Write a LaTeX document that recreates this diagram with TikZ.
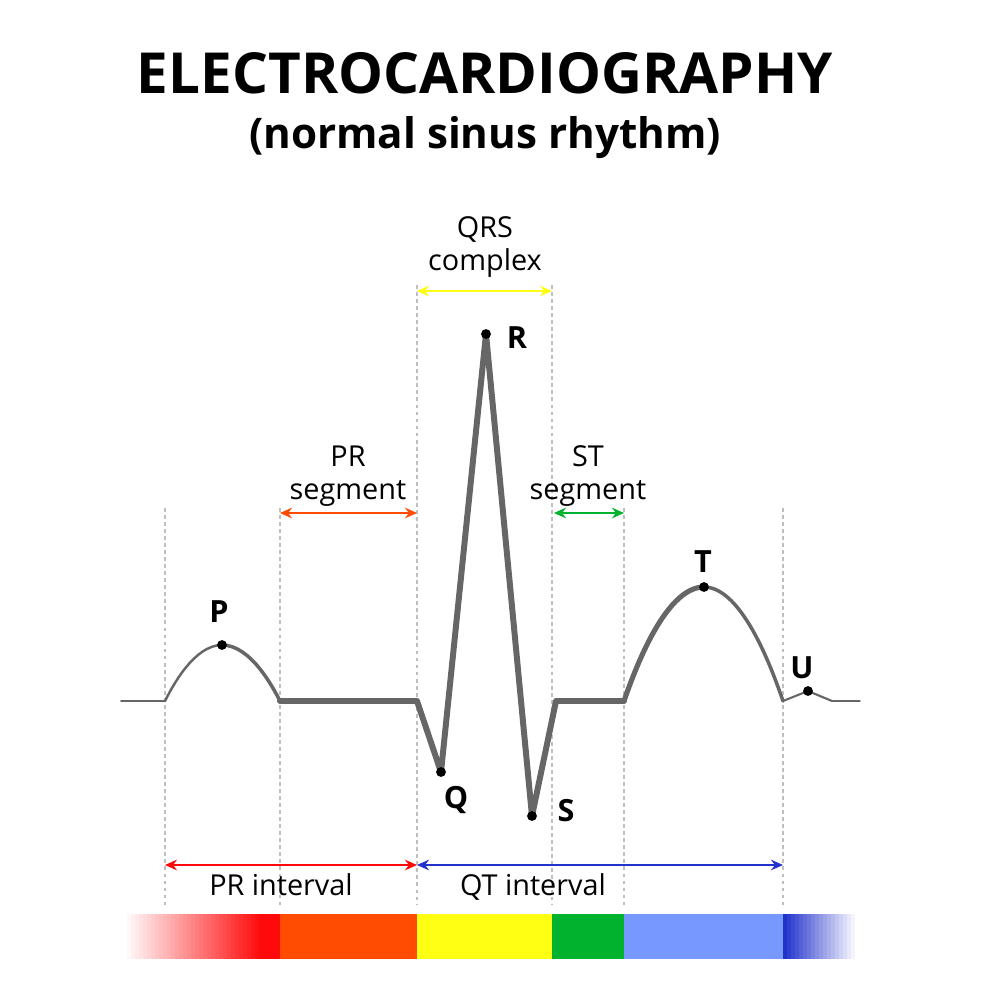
\documentclass[tikz,border=0pt]{standalone}
\usepackage{fontspec}
\setmainfont{Open Sans}
\usetikzlibrary{arrows.meta}
\definecolor{ecggray}{HTML}{666666}
\definecolor{prred}{HTML}{FF0A0A}
\definecolor{segorange}{HTML}{FF4C00}
\definecolor{qrsyellow}{HTML}{FFFF14}
\definecolor{stgreen}{HTML}{00B22D}
\definecolor{tblue}{HTML}{7799FF}
\definecolor{qtblue}{HTML}{2233CC}

\begin{document}
\begin{tikzpicture}[x=0.1mm,y=-0.1mm,
	guide/.style={draw=black!25,line width=0.3pt,dash pattern=on 1.1pt off 0.9pt},
	span/.style={line width=0.55pt,{Stealth[length=3.4pt,width=3pt]}-{Stealth[length=3.4pt,width=3pt]}},
	lab/.style={font=\fontsize{8.2}{9.3}\selectfont,align=center,inner sep=0pt},
	wavename/.style={font=\bfseries\fontsize{8.7}{10}\selectfont,inner sep=0pt},
	wdot/.style={circle,fill=black,inner sep=0pt,minimum size=2.8pt},
	ecg/.style={draw=ecggray,line cap=round,line join=round}]
		\useasboundingbox (0,0) rectangle (1000,1000);
		\node[font=\bfseries\fontsize{16.1}{19}\selectfont,anchor=base,inner sep=0pt] (title) at (485,93) {ELECTROCARDIOGRAPHY};
		\node[font=\bfseries\fontsize{12}{14}\selectfont,anchor=base,inner sep=0pt] (subtitle) at (485,148) {(normal sinus rhythm)};
		\foreach \gx/\gtop in {165/508,280/508,417/285,552/285,624/508,783/508}
		{
		\draw[guide] (\gx,\gtop) to (\gx,905);
		}
		\coordinate (base0) at (121,701);
		\coordinate (p0) at (165,701);
		\coordinate (ptop) at (222,645);
		\coordinate (p1) at (280,701);
		\coordinate (q0) at (417,701);
		\coordinate (q) at (441,772);
		\coordinate (r) at (486,334);
		\coordinate (s) at (532,816);
		\coordinate (st0) at (556,701);
		\coordinate (t0) at (624,701);
		\coordinate (ttop) at (704,587);
		\coordinate (t1) at (783,701);
		\coordinate (u) at (808,691);
		\coordinate (u1) at (832,701);
		\coordinate (base1) at (860,701);
		\draw[ecg,line width=0.45pt] (base0) to (p0);
		\draw[ecg,line width=0.7pt] (p0) parabola[bend at end] (ptop);
		\draw[ecg,line width=1.0pt] (ptop) parabola (p1);
		\draw[ecg,line width=1.7pt] (p1) to (q0) to (q) to (r) to (s) to (st0) to (t0);
		\draw[ecg,line width=1.45pt] (t0) parabola[bend at end] (ttop);
		\draw[ecg,line width=1.0pt] (ttop) parabola (t1);
		\draw[ecg,line width=0.6pt] (t1) to (u) to (u1);
		\draw[ecg,line width=0.4pt] (u1) to (base1);
		\node[wdot] (pdot) at (ptop) {};
		\node[wdot] (qdot) at (q) {};
		\node[wdot] (rdot) at (r) {};
		\node[wdot] (sdot) at (s) {};
		\node[wdot] (tdot) at (ttop) {};
		\node[wdot] (udot) at (u) {};
		\node[wavename] (pname) at (219,612) {P};
		\node[wavename] (qname) at (456,800) {Q};
		\node[wavename] (rname) at (517,338) {R};
		\node[wavename] (sname) at (566,811) {S};
		\node[wavename] (tname) at (703,562) {T};
		\node[wavename] (uname) at (802,668) {U};
		\coordinate (qrsL) at (417,291);
		\coordinate (qrsR) at (552,291);
		\coordinate (prsL) at (280,513);
		\coordinate (prsR) at (417,513);
		\coordinate (stsL) at (554,513);
		\coordinate (stsR) at (624,513);
		\coordinate (priL) at (165,865);
		\coordinate (priR) at (417,865);
		\coordinate (qtiL) at (417,865);
		\coordinate (qtiR) at (783,865);
		\draw[span,qrsyellow] (qrsL) to (qrsR);
		\draw[span,segorange] (prsL) to (prsR);
		\draw[span,stgreen] (stsL) to (stsR);
		\draw[span,prred] (priL) to (priR);
		\draw[span,qtblue] (qtiL) to (qtiR);
		\node[lab] (qrslab) at (485,247) {QRS\\complex};
		\node[lab] (prseglab) at (348,476) {PR\\segment};
		\node[lab] (stseglab) at (588,476) {ST\\segment};
		\node[lab,anchor=base] (printlab) at (281,895) {PR interval};
		\node[lab,anchor=base] (qtintlab) at (533,895) {QT interval};
		\foreach \xa/\xb/\col in {262/281/prred,280/418/segorange,417/553/qrsyellow,552/625/stgreen,624/783/tblue}
		{
		\fill[\col] (\xa,914) rectangle (\xb,959);
		}
		\foreach \k in {0,...,34}
		{
		\pgfmathsetmacro{\pct}{100*\k/34}
		\fill[prred!\pct!white] (123+4*\k,914) rectangle (128+4*\k,959);
		}
		\foreach \k in {0,...,18}
		{
		\pgfmathsetmacro{\pct}{100-100*\k/18}
		\fill[qtblue!\pct!white] (783+4*\k,914) rectangle (788+4*\k,959);
		}
	\end{tikzpicture}
\end{document}
